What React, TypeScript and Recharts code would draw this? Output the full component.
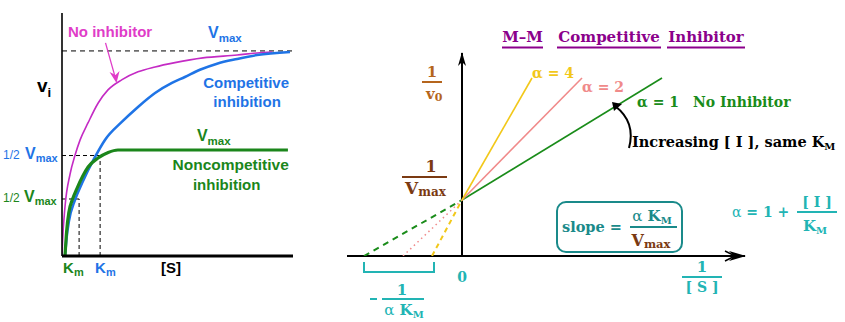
import React from 'react'
import { ComposedChart, Line, XAxis, YAxis, ReferenceLine, ReferenceDot } from 'recharts'

// ---- left panel: v_i against [S] (Vmax of the uninhibited enzyme = 1) ----
const noInhibitor = [
  { x: 0, y: 0 }, { x: 0.02, y: 0.06 }, { x: 0.13, y: 0.24 }, { x: 0.35, y: 0.4 }, { x: 0.56, y: 0.49 },
  { x: 0.78, y: 0.565 }, { x: 1.13, y: 0.65 }, { x: 1.56, y: 0.745 }, { x: 1.99, y: 0.81 }, { x: 2.6, y: 0.86 },
  { x: 3.29, y: 0.898 }, { x: 4.03, y: 0.922 }, { x: 4.89, y: 0.943 }, { x: 6.1, y: 0.966 }, { x: 7.58, y: 0.98 },
  { x: 8.44, y: 0.99 }, { x: 9.1, y: 0.995 },
]
const competitive = [
  { x: 0.13, y: 0 }, { x: 0.2, y: 0.09 }, { x: 0.3, y: 0.17 }, { x: 0.56, y: 0.273 }, { x: 0.87, y: 0.356 },
  { x: 1.43, y: 0.483 }, { x: 1.86, y: 0.566 }, { x: 2.6, y: 0.655 }, { x: 3.29, y: 0.727 }, { x: 4.03, y: 0.795 },
  { x: 4.76, y: 0.844 }, { x: 5.32, y: 0.873 }, { x: 5.97, y: 0.908 }, { x: 6.71, y: 0.938 }, { x: 7.58, y: 0.961 },
  { x: 8.44, y: 0.98 }, { x: 9.87, y: 0.995 },
]
const noncompetitive = [
  { x: 0.13, y: 0 }, { x: 0.2, y: 0.12 }, { x: 0.3, y: 0.215 }, { x: 0.45, y: 0.275 }, { x: 0.65, y: 0.33 },
  { x: 0.9, y: 0.39 }, { x: 1.13, y: 0.434 }, { x: 1.56, y: 0.478 }, { x: 2.0, y: 0.505 }, { x: 2.42, y: 0.517 },
  { x: 9.78, y: 0.517 },
]
const vmax = 1
const halfVmaxComp = 0.49
const kmComp = 1.65
const vmaxNoncomp = 0.517
const halfVmaxNoncomp = 0.278
const kmNoncomp = 0.74

// ---- right panel: Lineweaver-Burk, 1/v0 against 1/[S] ----
const invVmax = 0.56
const alphaLabels = ['α = 1', 'α = 2', 'α = 4']
const solidEndX = [2.0, 1.2, 0.7]
const solidEndY = 1.78
const xIntercepts = [-0.98, -0.59, -0.3]

const MAGENTA = '#c42bc4'
const MAGENTA_TXT = '#e03cc8'
const BLUE = '#1f74e6'
const GREEN = '#1b861b'
const LB_GREEN = '#1a8c1a'
const PINK = '#f08a8a'
const YELLOW = '#f2c81a'
const TEAL = '#22b4b4'
const TEAL_DARK = '#1a8a8a'
const BROWN = '#b5651d'
const DARK_BROWN = '#7b3a12'
const PURPLE = '#8b008b'
const SANS = '"Liberation Sans", Arial, sans-serif'
const SERIF = '"DejaVu Serif", serif'

// text / decoration pinned to a data point of the chart it lives in
function note(key: string, x: number, y: number, content: React.ReactNode) {
  return (
    <ReferenceDot
      key={key}
      x={x}
      y={y}
      r={0}
      ifOverflow="visible"
      isFront
      shape={(p: any) => <g transform={`translate(${p.cx},${p.cy})`}>{content}</g>}
    />
  )
}

const Vsub = ({ x, y, color, v = 16, s = 11.5, dy = 4, font = SANS }: any) => (
  <text x={x} y={y} fill={color} fontFamily={font} fontWeight="bold" fontSize={v}>
    V<tspan fontSize={s} dy={dy}>max</tspan>
  </text>
)

function LeftPanel() {
  const lbl = { fontFamily: SANS, fontWeight: 'bold' as const, fontSize: 15 }
  return (
    <ComposedChart
      width={300}
      height={290}
      margin={{ top: 13, right: 7, bottom: 34, left: 62 }}
      style={{ position: 'absolute', left: 0, top: 0 }}
    >
      <XAxis type="number" dataKey="x" domain={[0, 10]} hide allowDataOverflow />
      <YAxis type="number" domain={[0, 1.185]} hide allowDataOverflow />
      <ReferenceLine y={vmax} stroke="#000" strokeDasharray="5 4" strokeWidth={1} />
      <ReferenceLine segment={[{ x: 0, y: halfVmaxComp }, { x: kmComp, y: halfVmaxComp }]} stroke="#000" strokeDasharray="4 3" />
      <ReferenceLine segment={[{ x: kmComp, y: 0 }, { x: kmComp, y: halfVmaxComp }]} stroke="#000" strokeDasharray="4 3" />
      <ReferenceLine segment={[{ x: 0, y: halfVmaxNoncomp }, { x: kmNoncomp, y: halfVmaxNoncomp }]} stroke="#000" strokeDasharray="4 3" />
      <ReferenceLine segment={[{ x: kmNoncomp, y: 0 }, { x: kmNoncomp, y: halfVmaxNoncomp }]} stroke="#000" strokeDasharray="4 3" />
      <Line data={noInhibitor} dataKey="y" type="monotone" stroke={MAGENTA} strokeWidth={1.6} dot={false} isAnimationActive={false} />
      <Line data={competitive} dataKey="y" type="monotone" stroke={BLUE} strokeWidth={2.6} dot={false} isAnimationActive={false} />
      <Line data={noncompetitive} dataKey="y" type="monotone" stroke={GREEN} strokeWidth={3.2} dot={false} isAnimationActive={false} />
      <ReferenceLine x={0} stroke="#000" strokeWidth={1.6} />
      <ReferenceLine y={0} stroke="#000" strokeWidth={3} />

      {note('vi', 0, 0.8, (
        <text x={-25} y={0} fontFamily={SANS} fontWeight="bold" fontSize={19} fill="#000">
          v<tspan fontSize={13} dy={5}>i</tspan>
        </text>
      ))}
      {note('noinh', 0.26, 1.068, <text x={0} y={0} {...lbl} fill={MAGENTA_TXT}>No inhibitor</text>)}
      {note('arrow', 2.36, 0.844, (
        <g>
          <line x1={-11} y1={-40} x2={-2} y2={-8} stroke={MAGENTA_TXT} strokeWidth={1.3} />
          <polygon points="0,0 -7,-11 -1,-8 3,-12" fill={MAGENTA_TXT} />
        </g>
      ))}
      {note('vmaxB', 6.32, 1.063, <Vsub x={0} y={0} color={BLUE} />)}
      {note('comp', 7.97, 0.82, (
        <g>
          <text x={0} y={0} textAnchor="middle" {...lbl} fill={BLUE}>Competitive</text>
          <text x={1} y={19} textAnchor="middle" {...lbl} fill={BLUE}>inhibition</text>
        </g>
      ))}
      {note('vmaxG', 5.84, 0.561, <Vsub x={0} y={0} color={GREEN} />)}
      {note('noncomp', 7.3, 0.419, (
        <g>
          <text x={0} y={0} textAnchor="middle" {...lbl} fontSize={15.5} fill={GREEN}>Noncompetitive</text>
          <text x={-4} y={20} textAnchor="middle" {...lbl} fill={GREEN}>inhibition</text>
        </g>
      ))}
      {note('halfB', 0, halfVmaxComp, (
        <g>
          <text x={-59} y={3} fontFamily={SANS} fontSize={12} fill={BLUE}>1/2</text>
          <Vsub x={-37} y={3} color={BLUE} v={16} s={11} dy={3} />
        </g>
      ))}
      {note('halfG', 0, halfVmaxNoncomp, (
        <g>
          <text x={-59} y={3} fontFamily={SANS} fontSize={12} fill={GREEN}>1/2</text>
          <Vsub x={-38} y={3} color={GREEN} v={16} s={11} dy={3} />
        </g>
      ))}
      {note('kmG', kmNoncomp, 0, (
        <text x={-16} y={17} fontFamily={SANS} fontWeight="bold" fontSize={15} fill={GREEN}>
          K<tspan fontSize={11} dy={3}>m</tspan>
        </text>
      ))}
      {note('kmB', kmComp, 0, (
        <text x={-5} y={17} fontFamily={SANS} fontWeight="bold" fontSize={15} fill={BLUE}>
          K<tspan fontSize={11} dy={3}>m</tspan>
        </text>
      ))}
      {note('S', 4.72, 0, <text x={0} y={17} textAnchor="middle" {...lbl} fill="#000">[S]</text>)}
    </ComposedChart>
  )
}

function RightPanel() {
  const t = { fontFamily: SERIF, fontWeight: 'bold' as const }
  const lines = alphaLabels.map((_, i) => ({
    solid: [{ x: 0, y: invVmax }, { x: solidEndX[i], y: solidEndY }],
    extra: [{ x: xIntercepts[i], y: 0 }, { x: 0, y: invVmax }],
  }))
  const colors = [LB_GREEN, PINK, YELLOW]
  const dashes = ['6 5', '1.5 3.5', '5 4']
  return (
    <ComposedChart
      width={545}
      height={322}
      margin={{ top: 53, right: 100, bottom: 66, left: 47 }}
      style={{ position: 'absolute', left: 300, top: 0 }}
    >
      <XAxis type="number" dataKey="x" domain={[-1.15, 2.83]} hide allowDataOverflow />
      <YAxis type="number" domain={[0, 2.03]} hide allowDataOverflow />
      <ReferenceLine x={0} stroke="#000" strokeWidth={2} />
      <ReferenceLine y={0} stroke="#000" strokeWidth={2} />
      {lines.map((l, i) => (
        <Line key={'s' + i} data={l.solid} dataKey="y" type="linear" stroke={colors[i]} strokeWidth={1.6} dot={false} isAnimationActive={false} />
      ))}
      {lines.map((l, i) => (
        <Line key={'e' + i} data={l.extra} dataKey="y" type="linear" stroke={colors[i]} strokeWidth={i === 1 ? 1.5 : 2} strokeDasharray={dashes[i]} dot={false} isAnimationActive={false} />
      ))}

      {note('yarrow', 0, 2.03, <polygon points="0,-1 -4,13 0,9 4,13" fill="#000" />)}
      {note('xarrow', 2.83, 0, (
        <g>
          <polygon points="1,0 -16,-5 -11,0 -16,5" fill="#000" />
          <polyline points="-20,-5 -10,0 -20,5" fill="none" stroke="#000" strokeWidth={1.5} />
        </g>
      ))}

      {note('title', 0, 2.03, (
        <g fill={PURPLE} {...t} fontSize={15}>
          <text x={60.5} y={-11} textAnchor="middle">M–M</text>
          <text x={147} y={-11} textAnchor="middle">Competitive</text>
          <text x={244} y={-11} textAnchor="middle">Inhibitor</text>
          <line x1={40} x2={81} y1={-5.5} y2={-5.5} stroke={PURPLE} strokeWidth={2} />
          <line x1={95} x2={199} y1={-5.5} y2={-5.5} stroke={PURPLE} strokeWidth={2} />
          <line x1={205} x2={283} y1={-5.5} y2={-5.5} stroke={PURPLE} strokeWidth={2} />
        </g>
      ))}
      {note('v0', 0, 1.74, (
        <g fill={BROWN} {...t}>
          <text x={-30} y={-5} textAnchor="middle" fontSize={15}>1</text>
          <line x1={-40} x2={-20} y1={0} y2={0} stroke={BROWN} strokeWidth={2} />
          <text x={-36} y={17} fontSize={15}>v<tspan fontSize={11} dy={2}>0</tspan></text>
        </g>
      ))}
      {note('a4', solidEndX[2], solidEndY, <text x={0} y={0} {...t} fontSize={14} fill={YELLOW}>{alphaLabels[2]}</text>)}
      {note('a2', solidEndX[1], solidEndY, <text x={0} y={14} {...t} fontSize={14} fill={PINK}>{alphaLabels[1]}</text>)}
      {note('a1', solidEndX[0], solidEndY, (
        <text x={-25} y={29} {...t} fontSize={14} fill={LB_GREEN}>
          {alphaLabels[0]}<tspan dx={14}>No Inhibitor</tspan>
        </text>
      ))}
      {note('incr', 1.5, 1.54, (
        <g>
          <path d="M 17 46 Q 24 20 3 4" fill="none" stroke="#000" strokeWidth={2} />
          <polygon points="0,0 10,2 2,9" fill="#000" />
          <text x={20} y={45} {...t} fontSize={14.5} fill="#000">
            Increasing [ I ], same K<tspan fontSize={10} dy={3}>M</tspan>
          </text>
        </g>
      ))}
      {note('invVmax', 0, invVmax, (
        <g fill={DARK_BROWN} {...t}>
          <text x={-31} y={-28} textAnchor="middle" fontSize={16}>1</text>
          <line x1={-60} x2={-15} y1={-23} y2={-23} stroke={DARK_BROWN} strokeWidth={2} />
          <Vsub x={-57} y={-6} color={DARK_BROWN} v={17} s={12} dy={2} font={SERIF} />
        </g>
      ))}
      {note('slope', 1.575, 0.29, (
        <g {...t}>
          <rect x={-62.5} y={-25} width={125} height={50} rx={9} fill="none" stroke={TEAL_DARK} strokeWidth={2} />
          <text x={-57.5} y={5} fontSize={14.5} fill={TEAL_DARK}>slope =</text>
          <text x={32.5} y={-6} textAnchor="middle" fontSize={15} fill={TEAL_DARK}>
            <tspan fontWeight="normal">α</tspan> K<tspan fontSize={10} dy={3}>M</tspan>
          </text>
          <line x1={10.5} x2={57.5} y1={0} y2={0} stroke={TEAL_DARK} strokeWidth={2} />
          <Vsub x={12} y={19} color={DARK_BROWN} v={16} s={11.5} dy={2} font={SERIF} />
        </g>
      ))}
      {note('alphaDef', 3.0, 0.44, (
        <g {...t} fill={TEAL}>
          <text x={-30} y={5} fontSize={14}>
            <tspan fontWeight="normal">α</tspan> = 1 +
          </text>
          <text x={55} y={-5} textAnchor="middle" fontSize={14}>[ I ]</text>
          <line x1={35} x2={75} y1={0} y2={0} stroke={TEAL} strokeWidth={2} />
          <text x={53} y={19} textAnchor="middle" fontSize={15}>
            K<tspan fontSize={10} dy={3}>M</tspan>
          </text>
        </g>
      ))}
      {note('zero', 0, 0, <text x={0} y={26} textAnchor="middle" {...t} fontSize={14} fill={TEAL}>0</text>)}
      {note('invS', 2.4, 0, (
        <g {...t} fill={TEAL}>
          <text x={0} y={16} textAnchor="middle" fontSize={15}>1</text>
          <line x1={-20} x2={20} y1={21} y2={21} stroke={TEAL} strokeWidth={2} />
          <text x={0} y={36} textAnchor="middle" fontSize={14}>[ S ]</text>
        </g>
      ))}
      {note('bracket', xIntercepts[0], 0, (
        <g {...t} fill={TEAL}>
          <path d="M 0 6 V 16 H 70 V 6" fill="none" stroke={TEAL} strokeWidth={2} />
          <line x1={6} x2={13} y1={43} y2={43} stroke={TEAL} strokeWidth={2} />
          <text x={38} y={39} textAnchor="middle" fontSize={15}>1</text>
          <line x1={18} x2={60} y1={43} y2={43} stroke={TEAL} strokeWidth={2} />
          <text x={40} y={59} textAnchor="middle" fontSize={15}>
            <tspan fontWeight="normal">α</tspan> K<tspan fontSize={10} dy={3}>M</tspan>
          </text>
        </g>
      ))}
    </ComposedChart>
  )
}

export default function App() {
  return (
    <div style={{ position: 'absolute', left: 0, top: 0, width: 845, height: 322, background: '#fff' }}>
      <LeftPanel />
      <RightPanel />
    </div>
  )
}
